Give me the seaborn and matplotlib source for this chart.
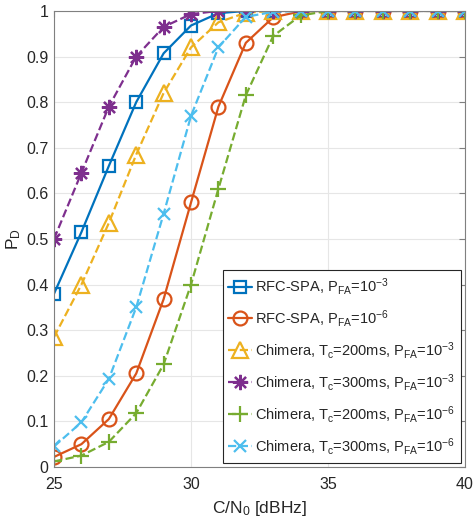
import matplotlib
matplotlib.use("Agg")
import matplotlib.pyplot as plt
import seaborn as sns
import pandas as pd
import numpy as np

cn0 = list(range(25, 41))
rfc_1e3 = [0.38, 0.515, 0.66, 0.80, 0.907, 0.968, 0.995, 1.0, 1.0, 1.0, 1.0, 1.0, 1.0, 1.0, 1.0, 1.0]
rfc_1e6 = [0.022, 0.05, 0.105, 0.205, 0.368, 0.58, 0.79, 0.93, 0.986, 0.999, 1.0, 1.0, 1.0, 1.0, 1.0, 1.0]
chi200_1e3 = [0.285, 0.40, 0.535, 0.685, 0.82, 0.92, 0.975, 0.996, 1.0, 1.0, 1.0, 1.0, 1.0, 1.0, 1.0, 1.0]
chi300_1e3 = [0.50, 0.645, 0.79, 0.90, 0.965, 0.993, 1.0, 1.0, 1.0, 1.0, 1.0, 1.0, 1.0, 1.0, 1.0, 1.0]
chi200_1e6 = [0.012, 0.025, 0.055, 0.118, 0.225, 0.40, 0.61, 0.815, 0.945, 0.99, 1.0, 1.0, 1.0, 1.0, 1.0, 1.0]
chi300_1e6 = [0.045, 0.098, 0.193, 0.35, 0.555, 0.77, 0.92, 0.987, 0.998, 1.0, 1.0, 1.0, 1.0, 1.0, 1.0, 1.0]

labels = [
    r'RFC-SPA, P$_{\mathrm{FA}}$=10$^{-3}$',
    r'RFC-SPA, P$_{\mathrm{FA}}$=10$^{-6}$',
    r'Chimera, T$_{\mathrm{c}}$=200ms, P$_{\mathrm{FA}}$=10$^{-3}$',
    r'Chimera, T$_{\mathrm{c}}$=300ms, P$_{\mathrm{FA}}$=10$^{-3}$',
    r'Chimera, T$_{\mathrm{c}}$=200ms, P$_{\mathrm{FA}}$=10$^{-6}$',
    r'Chimera, T$_{\mathrm{c}}$=300ms, P$_{\mathrm{FA}}$=10$^{-6}$',
]
series = [rfc_1e3, rfc_1e6, chi200_1e3, chi300_1e3, chi200_1e6, chi300_1e6]
colors = ['#0072BD', '#D95319', '#EDB120', '#7E2F8E', '#77AC30', '#4DBEEE']
markers = ['s', 'o', '^', (8, 2, 0), '+', 'x']
msizes = [8, 10, 11, 11, 12, 9]
styles = ['-', '-', '--', '--', '--', '--']

sns.set_style("white")
plt.rcParams['font.family'] = ['Liberation Sans', 'DejaVu Sans']
plt.rcParams['mathtext.fontset'] = 'custom'
plt.rcParams['mathtext.rm'] = 'Liberation Sans'
plt.rcParams['mathtext.it'] = 'Liberation Sans'

fig = plt.figure(figsize=(4.74, 5.2), dpi=100)
ax = fig.add_axes([0.114, 0.102, 0.867, 0.877])

for vals, lab, c, m, ms, ls in zip(series, labels, colors, markers, msizes, styles):
    df = pd.DataFrame({'x': cn0, 'y': vals})
    sns.lineplot(data=df, x='x', y='y', ax=ax, color=c, marker=m, markersize=ms,
                 markerfacecolor='none', markeredgecolor=c, markeredgewidth=1.6,
                 linewidth=1.6, linestyle=ls, label=lab)

ax.set_xlim(25, 40)
ax.set_ylim(0, 1)
ax.set_xticks([25, 30, 35, 40])
ax.set_yticks(np.arange(0, 1.01, 0.1))
ax.set_yticklabels(['0', '0.1', '0.2', '0.3', '0.4', '0.5', '0.6', '0.7', '0.8', '0.9', '1'])
ax.grid(True, color='#e6e6e6', linewidth=0.8)
ax.set_axisbelow(True)
for s in ax.spines.values():
    s.set_color('#808080')
    s.set_linewidth(0.8)
ax.tick_params(direction='in', length=4, color='#808080', labelsize=11.5,
               top=True, right=True, labelcolor='#262626')
ax.tick_params(axis='x', pad=7)
ax.tick_params(axis='y', pad=4)
ax.set_xlabel(r'C/N$_0$ [dBHz]', fontsize=12.5, color='#262626', labelpad=5)
ax.set_ylabel(r'P$_{\mathrm{D}}$', fontsize=12.5, color='#262626', labelpad=2)

leg = ax.legend(loc='lower right', fontsize=10.5, frameon=True, fancybox=False,
                edgecolor='#262626', framealpha=1, handlelength=1.6, handletextpad=0.2,
                labelspacing=0.75, borderpad=0.4, borderaxespad=0.3)
leg.get_frame().set_linewidth(0.8)

fig.savefig('out.png', dpi=100)
